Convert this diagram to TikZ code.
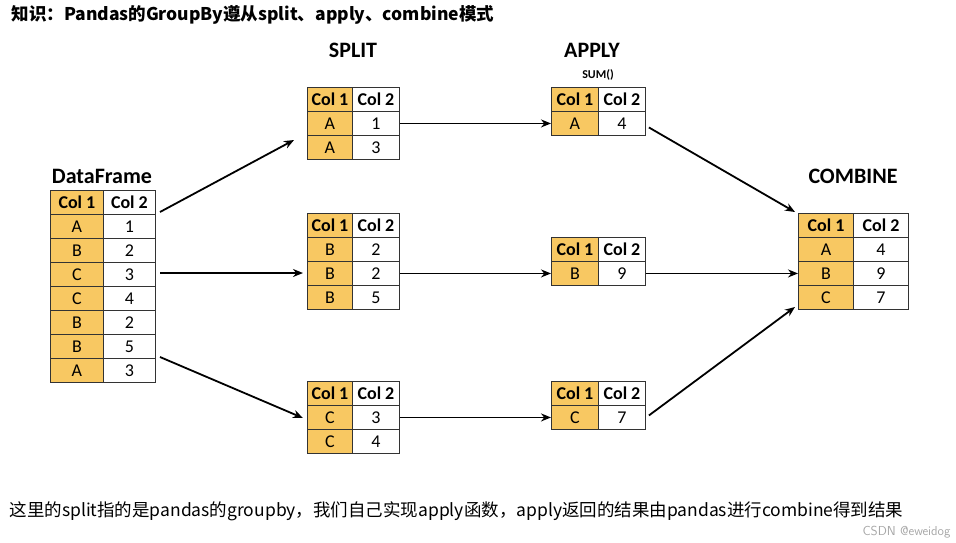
\documentclass[tikz,border=0pt]{standalone}
\usepackage{fontspec}
\setmainfont{Carlito}
\newfontfamily\cjk{Noto Sans CJK SC}
\usetikzlibrary{arrows.meta}
\definecolor{hd}{HTML}{F8C862}
\tikzset{
 cell/.style={draw=black!80,line width=0.9pt,minimum height=24pt,inner sep=0pt,font=\fontsize{18}{18}\selectfont},
 ttl/.style={font=\bfseries\fontsize{22}{22}\selectfont},
 arr/.style={-{Stealth[length=10pt,width=8pt]},line width=1.8pt}
}
% \mytable{name}{left x}{top y}{w1}{w2}{rows}
\newcommand\mytable[6]{%
 \node[cell,fill=hd,minimum width=#4pt,anchor=north west,font=\bfseries\fontsize{18}{18}\selectfont] (#1h1) at (#2,#3) {Col 1};
 \node[cell,fill=white,minimum width=#5pt,anchor=north west,font=\bfseries\fontsize{18}{18}\selectfont] (#1h2) at (#2+#4,#3) {Col 2};
 \foreach \a/\b [count=\i] in {#6}{
  \node[cell,fill=hd,minimum width=#4pt,anchor=north west] (#1a\i) at (#2,#3+24*\i) {\a};
  \node[cell,fill=white,minimum width=#5pt,anchor=north west] (#1b\i) at (#2+#4,#3+24*\i) {\b};
 }}
\begin{document}
\begin{tikzpicture}[x=1pt,y=-1pt]
\useasboundingbox (0,0) rectangle (956,542);
\node[anchor=west,font=\cjk\bfseries\fontsize{17.5}{17.5}\selectfont] (t) at (8,15) {知识：Pandas的GroupBy遵从split、apply、combine模式};
\node[ttl] (dft) at (102,176) {DataFrame};
\node[ttl] (spt) at (353,50) {SPLIT};
\node[ttl] (apt) at (592,50) {APPLY};
\node[font=\bfseries\fontsize{12}{12}\selectfont] (sum) at (598,75) {SUM()};
\node[ttl] (cbt) at (853,176) {COMBINE};
\mytable{df}{50}{190}{53}{52}{A/1,B/2,C/3,C/4,B/2,B/5,A/3}
\mytable{sa}{307}{87}{45}{47}{A/1,A/3}
\mytable{sb}{307}{213}{45}{47}{B/2,B/2,B/5}
\mytable{sc}{307}{381}{45}{47}{C/3,C/4}
\mytable{aa}{551}{87}{47}{47}{A/4}
\mytable{ab}{551}{237}{47}{47}{B/9}
\mytable{ac}{551}{381}{47}{47}{C/7}
\mytable{cb}{798}{213}{55}{55}{A/4,B/9,C/7}
\coordinate (d1) at (160,212); \coordinate (s1) at (294,140);
\coordinate (d2) at (160,273); \coordinate (s2) at (303,273);
\coordinate (d3) at (160,357); \coordinate (s3) at (303,418);
\draw[arr] (d1) -- (s1);
\draw[arr] (d2) -- (s2);
\draw[arr] (d3) -- (s3);
\draw[arr] (sab1.east) -- (aaa1.west);
\draw[arr] (sbb2.east) -- (aba1.west);
\draw[arr] (scb1.east) -- (aca1.west);
\coordinate (c1) at (795,212); \coordinate (c3) at (795,307);
\draw[arr] ([shift={(3,4)}]aab1.east) -- (c1);
\draw[arr] (abb1.east) -- (cba2.west);
\draw[arr] ([shift={(3,-2)}]acb1.east) -- (c3);
\node[anchor=west,font=\cjk\fontsize{17.5}{17.5}\selectfont] (bt) at (6,511) {这里的split指的是pandas的groupby，我们自己实现apply函数，apply返回的结果由pandas进行combine得到结果};
\node[anchor=east,text=gray!70,font=\sffamily\fontsize{13}{13}\selectfont] (wm) at (954,532) {CSDN @eweidog};
\end{tikzpicture}
\end{document}
